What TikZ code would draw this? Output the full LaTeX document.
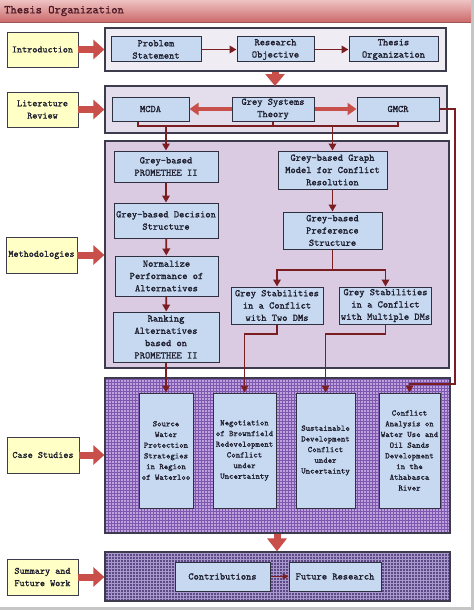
\documentclass[tikz,border=0pt]{standalone}
\usepackage{fontspec}
\usetikzlibrary{arrows.meta,patterns}
\newfontfamily\monof[Extension=.otf, RawFeature={embolden=1.2}]{lmmono10-regular}
\definecolor{lblfill}{HTML}{FFFFC6}
\definecolor{boxfill}{HTML}{C6D9F1}
\definecolor{boxline}{HTML}{2E3040}
\definecolor{panline}{HTML}{3C3C4C}
\definecolor{connred}{HTML}{7A1E22}
\definecolor{fatred}{HTML}{C9504A}
\definecolor{introfill}{HTML}{EFECF3}
\definecolor{litfill}{HTML}{E4DEEC}
\definecolor{methfill}{HTML}{DACBE2}
\definecolor{casefill}{HTML}{BDA2DE}
\definecolor{casegrid}{HTML}{7E58AE}
\definecolor{sumfill}{HTML}{5C4A86}
\definecolor{sumgrid}{HTML}{A898CC}
\definecolor{titletop}{HTML}{EEC2C2}
\definecolor{titlebot}{HTML}{CC6A6A}
\definecolor{txt}{HTML}{1E1E2E}
\tikzset{
  lbl/.style={draw=panline, fill=lblfill, line width=0.9pt, inner sep=1pt,
    align=center, text=txt, font=\monof\fontsize{9.7}{12.3}\selectfont},
  bbox/.style={draw=boxline, fill=boxfill, line width=1pt, inner sep=1pt,
    align=center, text=txt, font=\monof\fontsize{10}{12.3}\selectfont},
  cbox/.style={bbox, font=\monof\fontsize{8.4}{10.7}\selectfont,
    minimum height=115pt},
  panel/.style={draw=panline, line width=1.2pt, inner sep=0pt},
  conn/.style={draw=connred, line width=1.8pt},
  conna/.style={conn, -{Triangle[length=7pt,width=7.5pt]}},
  fatarrow/.style={draw=fatred, line width=7pt, -{Triangle[length=11pt,width=19pt]}},
  medarrow/.style={draw=fatred, line width=4pt, -{Triangle[length=9pt,width=12pt]}}
}
\begin{document}
\begin{tikzpicture}[x=1pt,y=-1pt]
\useasboundingbox (0,0) rectangle (474,610);
\fill[white] (0,0) rectangle (474,610);
% frame
\fill[gray!45] (471,0) rectangle (474,610);
\fill[gray!45] (0,607) rectangle (474,610);
% title bar
\shade[top color=titletop, bottom color=titlebot] (0,0) rectangle (471,22);
\draw[titlebot!80!black, line width=0.6pt] (0,22) -- (471,22);
\node[anchor=west, inner sep=0pt, text=txt!80!red,
  font=\monof\fontsize{12}{14}\selectfont] (title) at (4,11) {Thesis Organization};

% panels
\node[panel, fill=introfill, minimum width=341pt, minimum height=43pt] (ip) at (275.5,49.5) {};
\node[panel, fill=litfill, minimum width=342pt, minimum height=47pt] (lp) at (276,109.5) {};
\node[panel, fill=methfill, minimum width=344pt, minimum height=227pt] (mp) at (277,254.5) {};
\node[panel, preaction={fill=casefill}, pattern=grid, pattern color=casegrid,
  minimum width=345pt, minimum height=155pt] (cp) at (277.5,455.5) {};
\node[panel, preaction={fill=sumfill}, pattern=grid, pattern color=sumgrid,
  minimum width=345pt, minimum height=49pt] (sp) at (277.5,576.5) {};

% labels
\node[lbl, minimum width=71pt, minimum height=35pt] (lintro) at (42.5,49.5) {Introduction};
\node[lbl, minimum width=71pt, minimum height=35pt] (llit) at (42.5,109.5) {Literature\\Review};
\node[lbl, minimum width=71pt, minimum height=36pt] (lmeth) at (41.5,255) {Methodologies};
\node[lbl, minimum width=72pt, minimum height=36pt] (lcase) at (43,455) {Case Studies};
\node[lbl, minimum width=71pt, minimum height=36pt] (lsum) at (42.5,577) {Summary and\\Future Work};

\draw[fatarrow] (lintro.east) -- (ip.west |- lintro.east);
\draw[fatarrow] (llit.east) -- (lp.west |- llit.east);
\draw[fatarrow] (lmeth.east) -- (mp.west |- lmeth.east);
\draw[fatarrow] (lcase.east) -- (cp.west |- lcase.east);
\draw[fatarrow] (lsum.east) -- (sp.west |- lsum.east);

% introduction boxes
\node[bbox, minimum width=90pt, minimum height=25pt] (ps) at (156,49.5) {Problem\\Statement};
\node[bbox, minimum width=77pt, minimum height=25pt] (ro) at (275.5,49.5) {Research\\Objective};
\node[bbox, minimum width=89pt, minimum height=25pt] (to) at (393.5,49.5) {Thesis\\Organization};
\draw[conna] (ps) -- (ro);
\draw[conna] (ro) -- (to);

% literature boxes
\node[bbox, minimum width=77pt, minimum height=24pt] (mcda) at (150.5,109) {MCDA};
\node[bbox, minimum width=82pt, minimum height=24pt] (gst) at (273,109) {Grey Systems\\Theory};
\node[bbox, minimum width=82pt, minimum height=24pt] (gmcr) at (398,109) {GMCR};
\draw[medarrow] (gst.west) -- (mcda.east);
\draw[medarrow] (gst.east) -- (gmcr.west);

% between panels
\coordinate (ipb) at (275,71);
\coordinate (lpt) at (275,86);
\draw[fatarrow, -{Triangle[length=12pt,width=19pt]}] (ip.south -| ipb) -- (lpt);
\draw[fatarrow, -{Triangle[length=13pt,width=19pt]}] (cp.south -| 277,0) -- (sp.north -| 277,0);

% methodology boxes
\node[bbox, minimum width=104pt, minimum height=31pt] (prom) at (166,166.5) {Grey-based\\PROMETHEE II};
\node[bbox, minimum width=104pt, minimum height=35pt] (dec) at (166,220.5) {Grey-based Decision\\Structure};
\node[bbox, minimum width=103pt, minimum height=40pt] (norm) at (166.5,276) {Normalize\\Performance of\\Alternatives};
\node[bbox, minimum width=106pt, minimum height=50pt] (rank) at (166,337) {Ranking\\Alternatives\\based on\\PROMETHEE II};
\node[bbox, minimum width=109pt, minimum height=38pt] (gm) at (332.5,170) {Grey-based Graph\\Model for Conflict\\Resolution};
\node[bbox, minimum width=99pt, minimum height=37pt] (pref) at (332.5,230.5) {Grey-based\\Preference\\Structure};
\node[bbox, minimum width=92pt, minimum height=37pt] (two) at (277,305.5) {Grey Stabilities\\in a Conflict\\with Two DMs};
\node[bbox, minimum width=91pt, minimum height=37pt] (mult) at (385.5,305.5) {Grey Stabilities\\in a Conflict\\with Multiple DMs};

% case boxes
\node[cbox, minimum width=54pt] (sw) at (166,450.5) {Source\\Water\\Protection\\Strategies\\in Region\\of Waterloo};
\node[cbox, minimum width=63pt] (neg) at (244.5,450.5) {Negotiation\\of Brownfield\\Redevelopment\\Conflict\\under\\Uncertainty};
\node[cbox, minimum width=59pt] (sus) at (325.5,450.5) {Sustainable\\Development\\Conflict\\under\\Uncertainty};
\node[cbox, minimum width=61pt] (con) at (409.5,450.5) {Conflict\\Analysis on\\Water Use and\\Oil Sands\\Development\\in the\\Athabasca\\River};

% summary boxes
\node[bbox, minimum width=95pt, minimum height=29pt] (contr) at (222.5,576.5) {Contributions};
\node[bbox, minimum width=92pt, minimum height=29pt] (fut) at (335,576.5) {Future Research};
\draw[conna, -{Triangle[length=6pt,width=6pt]}] (contr) -- (fut);

% bus from literature to methodologies
\coordinate (busL) at (138,126);
\coordinate (busR) at (398,126);
\draw[conn] (mcda.south -| busL) -- (busL) -- (busR) -- (gmcr.south);
\draw[conn] (gst.south) -- (gst.south |- busL);
\draw[conna] (prom.north |- busL) -- (prom.north);
\draw[conna] (gm.north |- busL) -- (gm.north);

% methodology arrows
\draw[conna] (prom) -- (dec);
\draw[conna] (dec) -- (norm);
\draw[conna] (norm) -- (rank);
\draw[conna] (gm) -- (pref);
\coordinate (split) at (332.5,270);
\draw[conn] (pref.south) -- (pref.south |- split);
\draw[conna] (pref.south |- split) -| (two.north);
\draw[conna] (pref.south |- split) -| (mult.north);

% methodology to cases
\coordinate (kk) at (0,334);
\draw[conna] (rank.south) -- (sw.north);
\draw[conna] (two.south) -- (two.south |- kk) -| (neg.north);
\draw[conna] (mult.south) -- (mult.south |- kk) -| (sus.north);
\coordinate (rr) at (455,384);
\draw[conna] (gmcr.east) -| (rr) -| (con.north);
\end{tikzpicture}
\end{document}
